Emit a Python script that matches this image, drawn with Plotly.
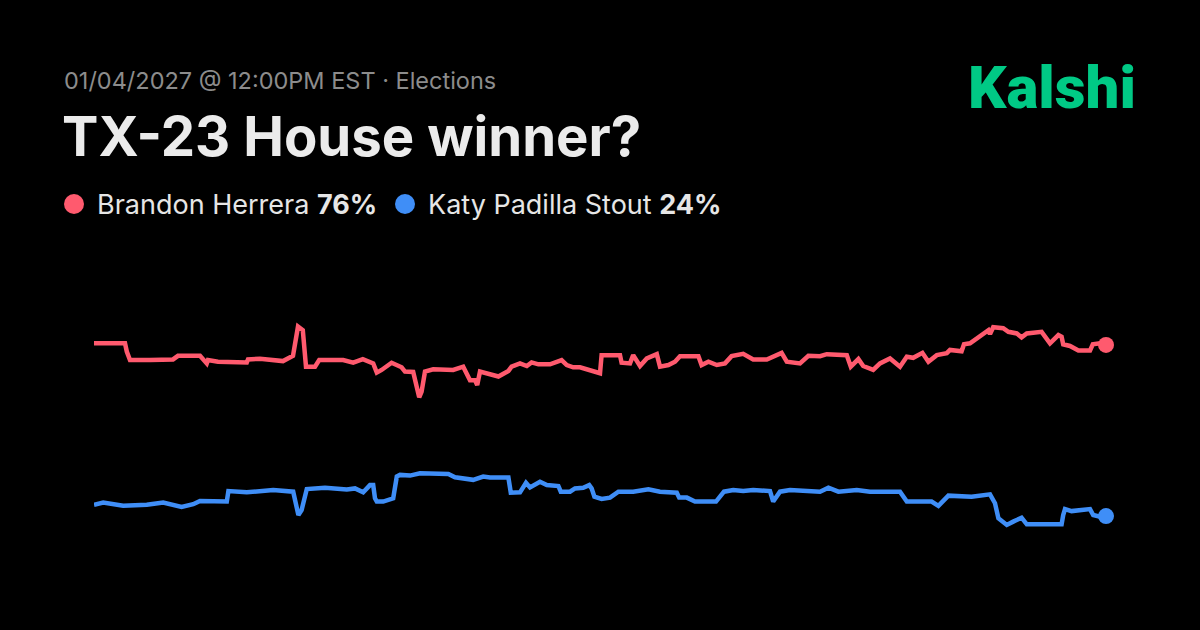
import plotly.graph_objects as go

# Time index (arbitrary units across the window) and probabilities (%)
red_t = [0, 7.75, 8.2, 9.0, 14.0, 19.75, 21.0, 26.5, 28.2, 28.5, 31.0, 38.2, 38.5, 41.5, 47.25, 49.75,
         51.0, 52.2, 53.0, 55.25, 56.3, 62.3, 64.8, 67.2, 69.8, 70.7, 71.9, 74.4, 76.9, 77.75, 79.8,
         81.3, 81.9, 82.3, 82.75, 84.8, 89.8, 92.3, 93.2, 94.0, 95.25, 95.8, 96.5, 99.0, 101.1, 103.6,
         104.4, 106.5, 108.2, 109.4, 111.1, 114.0, 116.9, 118.2, 119.8, 121.5, 124.0, 126.5, 126.9,
         131.5, 131.9, 134.0, 134.8, 136.5, 138.2, 140.7, 141.5, 143.6, 145.25, 146.5, 151.1, 151.9,
         153.6, 155.7, 157.75, 159.4, 162.3, 164.8, 168.2, 169.8, 171.9, 173.2, 176.5, 178.6, 181.5,
         183.2, 188.2, 189.2, 191.1, 192.3, 194.8, 196.5, 199.0, 201.5, 203.2, 204.8, 207.1, 208.6,
         210.7, 213.2, 214.0, 216.9, 217.5, 219.0, 221.9, 223.6, 224.0, 224.8, 227.3, 228.6, 230.7,
         231.9, 233.2, 236.9, 239.0, 241.1, 241.9, 242.3, 244.0, 246.1, 249.0, 249.7, 251.5, 253.0]
red_v = [76.5, 76.5, 74.0, 71.4, 71.4, 71.6, 72.7, 72.7, 70.4, 71.4, 70.9, 70.7, 71.6, 71.8, 71.1, 72.7,
         81.6, 80.5, 69.4, 69.4, 71.4, 71.4, 70.6, 71.7, 70.4, 67.6, 68.4, 70.6, 69.2, 67.9, 67.8,
         60.1, 61.8, 65.3, 67.9, 68.6, 68.4, 69.4, 66.9, 65.3, 65.3, 63.8, 67.9, 67.2, 66.4, 68.1,
         69.4, 70.4, 69.6, 70.7, 70.1, 70.1, 71.4, 69.9, 69.2, 69.2, 68.4, 67.4, 72.9,
         72.9, 70.6, 70.4, 72.9, 69.6, 71.9, 73.2, 69.4, 69.9, 70.9, 72.6, 72.6, 69.9,
         70.9, 69.9, 70.4, 72.6, 73.3, 71.6, 71.6, 72.4, 73.6, 70.9, 70.4, 72.7, 72.6,
         73.2, 72.9, 69.4, 71.7, 69.6, 68.4, 70.4, 71.9, 69.4, 72.4, 72.1, 73.6, 70.9,
         72.9, 73.5, 74.5, 74.1, 76.2, 76.5, 79.0, 80.5, 79.3, 81.4, 81.1, 80.0, 79.5,
         78.3, 79.5, 80.0, 76.5, 79.0, 78.5, 76.2, 75.7, 74.3, 74.3, 76.2, 76.5, 76.0]

blue_t = [0, 2.3, 7.3, 13.2, 17.3, 21.9, 24.8, 26.5, 33.2, 33.6, 38.2, 44.8, 49.8, 51.1, 51.9, 53.2,
          57.75, 63.2, 65.25, 67.3, 69.0, 69.8, 70.25, 70.7, 72.3, 74.8, 75.7, 76.5, 79.0, 81.5, 88.6,
          90.25, 94.8, 97.3, 99.0, 103.6, 104.2, 106.5, 108.0, 109.0, 111.5, 113.2, 116.1, 116.7,
          119.0, 120.25, 122.3, 123.8, 124.4, 125.1, 126.9, 129.0, 131.1, 134.8, 138.6, 141.5, 145.7,
          146.3, 148.2, 150.25, 155.5, 157.5, 159.8, 162.3, 164.8, 169.0, 169.8, 170.7, 171.5, 174.0,
          181.5, 183.6, 186.1, 190.7, 194.0, 201.5, 203.2, 209.4, 211.1, 213.6, 219.4, 224.0, 225.25,
          226.1, 228.2, 229.8, 231.9, 233.2, 241.9, 242.3, 242.75, 244.4, 249.0, 249.8, 251.5, 253.0]
blue_v = [27.4, 28.1, 27.1, 27.4, 28.1, 26.8, 27.6, 28.6, 28.4, 31.6, 31.2, 31.9, 31.4, 24.3, 25.8, 32.2,
          32.6, 32.1, 32.4, 31.2, 33.4, 33.4, 29.4, 28.4, 28.4, 29.4, 36.0, 36.5, 36.3, 37.0, 36.8,
          35.8, 35.0, 36.0, 35.7, 35.7, 31.1, 31.2, 34.1, 32.7, 34.4, 33.4, 33.1, 31.4,
          31.4, 32.4, 32.6, 33.4, 32.4, 29.9, 29.2, 29.6, 31.4, 31.4, 32.1, 31.4, 31.1,
          29.6, 29.6, 28.4, 28.4, 31.4, 31.9, 31.6, 31.9, 31.6, 28.4, 29.9, 31.4, 31.9,
          31.4, 32.6, 31.4, 31.9, 31.4, 31.4, 28.4, 28.4, 27.1, 30.2, 29.9, 30.6, 27.9,
          23.3, 21.3, 22.3, 23.5, 21.5, 21.5, 24.3, 26.1, 25.5, 26.1, 24.3, 23.8, 24.0]

names = ["Brandon Herrera", "Katy Padilla Stout"]
current = ["76%", "24%"]
colors = ["#FF5A6E", "#3F8EF7"]

W, H = 1200, 630

def px(x):
    return x / W

def py(y):
    return 1 - y / H

fig = go.Figure()
for t, v, c, n in [(red_t, red_v, colors[0], names[0]), (blue_t, blue_v, colors[1], names[1])]:
    fig.add_trace(go.Scatter(x=t, y=v, mode="lines", line=dict(color=c, width=4.5, shape="linear"),
                             name=n, showlegend=False, hoverinfo="skip"))
    fig.add_trace(go.Scatter(x=[t[-1]], y=[v[-1]], mode="markers", marker=dict(color=c, size=16),
                             showlegend=False, cliponaxis=False, hoverinfo="skip"))

fig.update_layout(
    width=W, height=H,
    paper_bgcolor="#000000", plot_bgcolor="#000000",
    margin=dict(l=0, r=0, t=0, b=0),
    xaxis=dict(visible=False, domain=[px(94), px(1106)], range=[0, 253]),
    yaxis=dict(visible=False, domain=[py(595), py(266)], range=[0, 100]),
    font=dict(family="Inter, sans-serif"),
)

ann = []
ann.append(dict(x=px(62), y=py(80), xref="paper", yref="paper", xanchor="left", yanchor="middle",
                text="01/04/2027 @ 12:00PM EST · Elections", showarrow=False,
                font=dict(size=23.5, color="#8C8C8C", family="Inter, sans-serif")))
ann.append(dict(x=px(60), y=py(136), xref="paper", yref="paper", xanchor="left", yanchor="middle",
                text="<b>TX-23 House winner?</b>", showarrow=False,
                font=dict(size=54.5, color="#EBEBEB", family="Inter, sans-serif")))
ann.append(dict(x=px(95), y=py(205), xref="paper", yref="paper", xanchor="left", yanchor="middle",
                text=f"{names[0]} <b>{current[0]}</b>", showarrow=False,
                font=dict(size=27, color="#E6E6E6", family="Inter, sans-serif")))
ann.append(dict(x=px(426), y=py(205), xref="paper", yref="paper", xanchor="left", yanchor="middle",
                text=f"{names[1]} <b>{current[1]}</b>", showarrow=False,
                font=dict(size=27, color="#E6E6E6", family="Inter, sans-serif")))
ann.append(dict(x=px(1138), y=py(88), xref="paper", yref="paper", xanchor="right", yanchor="middle",
                text="Kalshi", showarrow=False,
                font=dict(size=60, color="#00C985", family="Roboto, sans-serif", weight=900)))
fig.update_layout(annotations=ann)

shapes = []
for cx, c in [(74, colors[0]), (405, colors[1])]:
    shapes.append(dict(type="circle", xref="paper", yref="paper",
                       x0=px(cx - 10), x1=px(cx + 10), y0=py(204 + 10), y1=py(204 - 10),
                       fillcolor=c, line=dict(width=0)))
fig.update_layout(shapes=shapes)

fig.write_html("out.html")
